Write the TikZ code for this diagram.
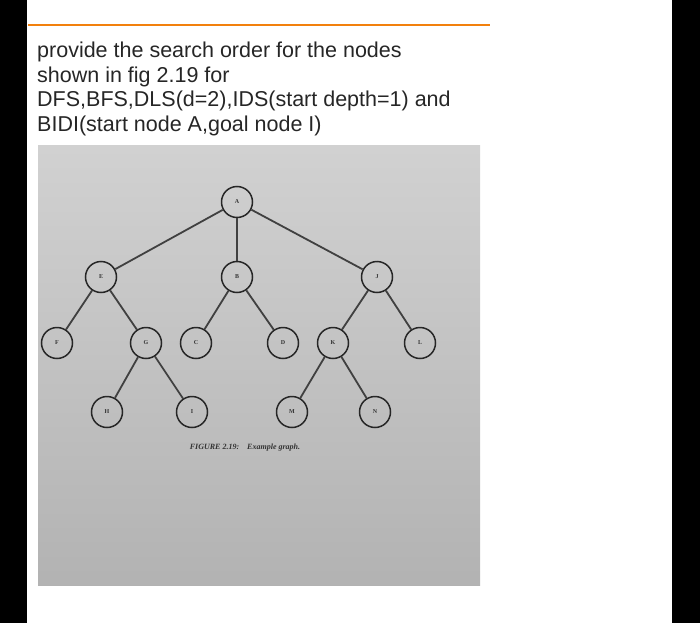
\documentclass[tikz,border=0pt]{standalone}
\usepackage{fontspec}
\setmainfont{Liberation Sans}
\newfontfamily\capfont{Liberation Serif}
\begin{document}
\begin{tikzpicture}[x=1pt,y=-1pt,
  gn/.style={circle,draw=black!85,line width=1.5pt,minimum size=31pt,inner sep=0pt,font=\capfont\fontsize{6}{6}\selectfont\bfseries,text=black!80},
  ge/.style={draw=black!75,line width=1.8pt}]
\useasboundingbox (0,0) rectangle (700,623);
\fill[black] (0,0) rectangle (27,623);
\fill[black] (672,0) rectangle (700,623);
\draw[orange!80!brown,line width=2pt] (28,25) -- (490,25);
\node[anchor=north west,align=left,inner sep=0pt,font=\fontsize{21.5}{24.5}\selectfont,text=black!85] (q) at (37,42)
{provide the search order for the nodes\\shown in fig 2.19 for\\DFS,BFS,DLS(d=2),IDS(start depth=1) and\\BIDI(start node A,goal node I)};
\shade[top color=black!18,bottom color=black!30] (38,145) rectangle (480,585);
\node[gn] (A) at (237,202) {A};
\node[gn] (E) at (101,277) {E};
\node[gn] (B) at (237,277) {B};
\node[gn] (J) at (377,277) {J};
\node[gn] (F) at (57,343) {F};
\node[gn] (G) at (146,343) {G};
\node[gn] (C) at (196,343) {C};
\node[gn] (D) at (283,343) {D};
\node[gn] (K) at (333,343) {K};
\node[gn] (L) at (420,343) {L};
\node[gn] (H) at (107,412) {H};
\node[gn] (I) at (192,412) {I};
\node[gn] (M) at (292,412) {M};
\node[gn] (N) at (375,412) {N};
\foreach \a/\b in {A/E,A/B,A/J,E/F,E/G,B/C,B/D,J/K,J/L,G/H,G/I,K/M,K/N}
  \draw[ge] (\a) -- (\b);
\node[font=\capfont\fontsize{8}{8}\selectfont\bfseries\itshape,text=black!80] (cap) at (245,448) {FIGURE 2.19:\quad Example graph.};
\end{tikzpicture}
\end{document}
